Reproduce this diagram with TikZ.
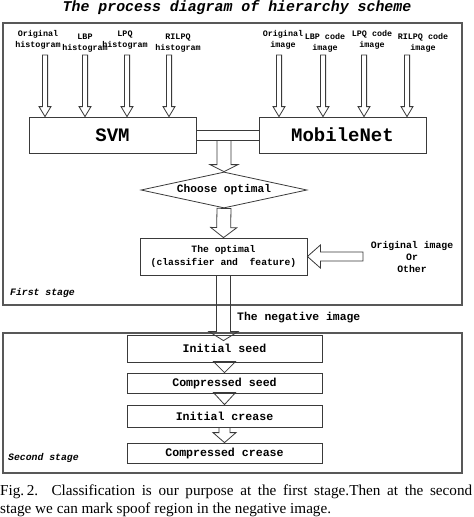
\documentclass[tikz,border=0pt]{standalone}
\usepackage{fontspec}
\setmainfont{Liberation Serif}
\setmonofont{Liberation Mono}
\usetikzlibrary{calc,shapes.geometric}
\definecolor{ln}{HTML}{3A3A3A}
\tikzset{
  harrow/.style n args={3}{draw=ln, line width=0.8pt, to path={
    ($(\tikztostart)!#1!90:(\tikztotarget)$)
    -- ($(\tikztotarget)!#3!(\tikztostart)!#1!90:(\tikztotarget)$)
    -- ($(\tikztotarget)!#3!(\tikztostart)!#2!90:(\tikztotarget)$)
    -- (\tikztotarget)
    -- ($(\tikztotarget)!#3!(\tikztostart)!#2!-90:(\tikztotarget)$)
    -- ($(\tikztotarget)!#3!(\tikztostart)!#1!-90:(\tikztotarget)$)
    -- ($(\tikztostart)!#1!-90:(\tikztotarget)$) -- cycle}},
  stagebox/.style={draw=ln!85, line width=1.3pt},
  box/.style={draw=ln, line width=0.8pt, rectangle, inner sep=0pt, font=\ttfamily\bfseries\fontsize{11.6}{13}\selectfont},
  toplbl/.style={align=center, inner sep=0pt, font=\ttfamily\bfseries\fontsize{8.4}{11.5}\selectfont},
  stagelbl/.style={anchor=west, inner sep=0pt, font=\ttfamily\bfseries\itshape\fontsize{9.8}{12}\selectfont},
  captxt/.style={anchor=west, inner sep=0pt, font=\fontsize{15.2}{17}\selectfont},
}
\begin{document}
\begin{tikzpicture}[x=1pt,y=-1pt]
\useasboundingbox (0,0) rectangle (474,517);
% title
\node[inner sep=0pt, font=\ttfamily\bfseries\itshape\fontsize{14.9}{16}\selectfont] (title) at (237,8) {The process diagram of hierarchy scheme};
% stage boxes
\draw[stagebox] (3,23) rectangle (462,305);
\draw[stagebox] (3,333) rectangle (462,473);
% top labels
\node[toplbl] (l1) at (38,40) {Original\\histogram};
\node[toplbl] (l2) at (85,43) {LBP\\histogram};
\node[toplbl] (l3) at (125,40) {LPQ\\histogram};
\node[toplbl] (l4) at (178,43) {RILPQ\\histogram};
\node[toplbl] (l5) at (283,40) {Original\\image};
\node[toplbl] (l6) at (325,43) {LBP code\\image};
\node[toplbl] (l7) at (372,40) {LPQ code\\image};
\node[toplbl] (l8) at (423,43) {RILPQ code\\image};
% classifiers
\node[box, minimum width=167pt, minimum height=36pt, font=\ttfamily\bfseries\fontsize{19}{21}\selectfont] (svm) at (112.5,135) {SVM};
\node[box, minimum width=167pt, minimum height=36pt, font=\ttfamily\bfseries\fontsize{19}{21}\selectfont] (mob) at (342.5,135) {MobileNet};
% arrows into classifiers
\coordinate (t1) at (45,55);
\coordinate (t2) at (85,55);
\coordinate (t3) at (127,55);
\coordinate (t4) at (169,55);
\coordinate (t5) at (279,55);
\coordinate (t6) at (323,55);
\coordinate (t7) at (364,55);
\coordinate (t8) at (407,55);
\foreach \t in {t1,t2,t3,t4}{\draw[harrow={2.6pt}{6pt}{10pt}] (\t) to (\t |- svm.north);}
\foreach \t in {t5,t6,t7,t8}{\draw[harrow={2.6pt}{6pt}{10pt}] (\t) to (\t |- mob.north);}
% bar between classifiers
\coordinate (bart) at ($(svm.east)+(0,-5)$);
\coordinate (barb) at ($(svm.east)+(0,5.5)$);
\draw[draw=ln, line width=0.8pt] (bart) -- (bart -| mob.west) (barb) -- (barb -| mob.west);
% diamond
\node[draw=ln, line width=0.8pt, diamond, aspect=4.6, minimum width=166pt, minimum height=36pt, inner sep=0pt, font=\ttfamily\bfseries\fontsize{11.2}{13}\selectfont] (dia) at (224,190) {Choose optimal};
\draw[harrow={7pt}{14pt}{7pt}] (dia.north |- barb) to (dia.north);
% optimal box
\node[box, minimum width=167pt, minimum height=37pt, align=center, font=\ttfamily\bfseries\fontsize{9.7}{13}\selectfont] (opt) at (223.5,256.5) {The optimal\\(classifier and~~feature)};
\draw[harrow={7pt}{13pt}{10pt}] (dia.south) to (opt.north);
% right input
\node[toplbl, font=\ttfamily\bfseries\fontsize{9.8}{12}\selectfont] (oi) at (412,257) {Original image\\Or\\Other};
\coordinate (oit) at (363,256.5);
\draw[harrow={4.5pt}{11.5pt}{13pt}] (oit) to (opt.east);
% stage labels
\node[stagelbl] (fs) at (10,293) {First stage};
\node[stagelbl] (ss) at (8,458) {Second stage};
% second stage boxes
\node[box, minimum width=195pt, minimum height=27pt] (s1) at (224.5,348.5) {Initial seed};
\node[box, minimum width=195pt, minimum height=20pt] (s2) at (224.5,383) {Compressed seed};
\node[box, minimum width=195pt, minimum height=22pt] (s3) at (224.5,416) {Initial crease};
\node[box, minimum width=195pt, minimum height=20pt] (s4) at (224.5,453) {Compressed crease};
% negative image arrow
\coordinate (negtip) at ($(opt.south |- s1.north)+(0,6)$);
\draw[harrow={7pt}{14.5pt}{9pt}] (opt.south) to (negtip);
\node[anchor=west, inner sep=0pt, font=\ttfamily\bfseries\fontsize{11.4}{13}\selectfont] (neg) at (237,318) {The negative image};
\draw[harrow={0pt}{11pt}{11pt}] (s1.south) to (s2.north);
\draw[harrow={0pt}{11pt}{12pt}] (s2.south) to (s3.north);
\draw[harrow={5.5pt}{11.5pt}{10pt}] (s3.south) to (s4.north);
% caption
\node[captxt] (cap1) at (0,492) {\makebox[472pt][s]{Fig.\,2.\ \ Classification is our purpose at the first stage.Then at the second}};
\node[captxt] (cap2) at (0,510) {stage we can mark spoof region in the negative image.};
\end{tikzpicture}
\end{document}
